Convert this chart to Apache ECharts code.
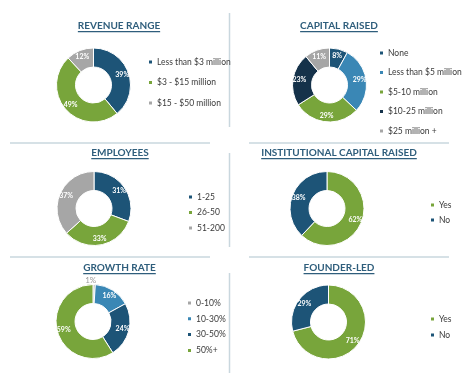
<!DOCTYPE html>
<html><head><meta charset="utf-8">
<script src="https://cdn.jsdelivr.net/npm/echarts@6/dist/echarts.min.js"></script>
<style>html,body{margin:0;padding:0;background:#fff}#c{width:474px;height:386px}</style>
</head><body><div id="c"></div><script>
const titles = ['REVENUE RANGE','CAPITAL RAISED','EMPLOYEES','INSTITUTIONAL CAPITAL RAISED','GROWTH RATE','FOUNDER-LED'];
const revenueCats = ['Less than $3 million','$3 - $15 million','$15 - $50 million'];
const revenueVals = [39,49,12];
const capitalCats = ['None','Less than $5 million','$5-10 million','$10-25 million','$25 million +'];
const capitalVals = [8,29,29,23,11];
const employeeCats = ['1-25','26-50','51-200'];
const employeeVals = [31,33,37];
const instCats = ['Yes','No'];
const instVals = [62,38];
const growthCats = ['0-10%','10-30%','30-50%','50%+'];
const growthVals = [1,16,24,59];
const founderCats = ['Yes','No'];
const founderVals = [71,29];

const NAVY='#1d5477', LBLUE='#3a87b5', GREEN='#78a53b', DNAVY='#15324a', GRAY='#a6a6a6';
const TCOL='#2f5e7c', LINE='#c9d7de';
const FONT='Lato';

const panels = [
  {cats:revenueCats, vals:revenueVals, colors:[NAVY,GREEN,GRAY], center:[93.5,85], title:[119,26], legend:[142,52], gap:10.5},
  {cats:capitalCats, vals:capitalVals, colors:[NAVY,LBLUE,GREEN,DNAVY,GRAY], center:[329.5,85], title:[339,26], legend:[373,43], gap:9.5},
  {cats:employeeCats, vals:employeeVals, colors:[NAVY,GREEN,GRAY], center:[94,208.5], title:[120,153], legend:[182,187], gap:5.5},
  {cats:instCats, vals:instVals, colors:[GREEN,NAVY], center:[327,208.5], title:[339,153], legend:[424,195], gap:5},
  {cats:growthCats, vals:growthVals, colors:[GRAY,LBLUE,NAVY,GREEN], center:[93,321.5], title:[119.5,268], legend:[181,293], gap:5.8},
  {cats:founderCats, vals:founderVals, colors:[GREEN,NAVY], center:[328.5,322], title:[339,268], legend:[424,309], gap:6}
];

const ctx = document.createElement('canvas').getContext('2d');
const titleFont = 'bold 10px ' + FONT;
ctx.font = titleFont;

const graphics = [];
const seg = (x1,y1,x2,y2)=>graphics.push({type:'line',shape:{x1,y1,x2,y2},style:{stroke:LINE,lineWidth:1.5},silent:true});
seg(229.5,13,229.5,127); seg(229.5,153,229.5,247); seg(229.5,273,229.5,373);
seg(10,143,210,143); seg(249,143,449,143);
seg(10,257,210,257); seg(249,257,449,257);

const series=[], legends=[];
panels.forEach((p,i)=>{
  const t = titles[i];
  const w = ctx.measureText(t).width;
  graphics.push({type:'text',style:{text:t,x:p.title[0],y:p.title[1],align:'center',verticalAlign:'middle',fill:TCOL,font:titleFont},silent:true});
  graphics.push({type:'rect',shape:{x:p.title[0]-w/2,y:p.title[1]+5,width:w,height:1.2},style:{fill:TCOL},silent:true});
  const small = [];
  const data = p.cats.map((c,k)=>{
    const d = {name:c, value:p.vals[k], itemStyle:{color:p.colors[k]}};
    if (p.vals[k] < 3) {
      small.push(k);
      d.label = {position:'outside', color:'#999', fontWeight:'normal', fontSize:8};
      d.labelLine = {show:false, length:1, length2:0};
    }
    return d;
  });
  series.push({
    type:'pie', radius:[18,37], center:p.center, startAngle:90, clockwise:true,
    avoidLabelOverlap:false, silent:true,
    itemStyle:{borderColor:'#fff', borderWidth:1},
    label:{show:true, position:'inside', formatter:'{c}%', color:'#fff', fontSize:7, fontWeight:'bold', fontFamily:FONT},
    labelLine:{show:false},
    labelLayout: small.length ? (prm => small.indexOf(prm.dataIndex) >= 0 ? {dx:-14, dy:-3} : {}) : undefined,
    data
  });
  legends.push({
    orient:'vertical', left:p.legend[0], top:p.legend[1], itemWidth:5, itemHeight:5, icon:'rect',
    itemGap:p.gap, selectedMode:false, data:p.cats,
    textStyle:{fontSize:8.5, color:'#3a3a3a', fontFamily:FONT, lineHeight:10, padding:[0,0,0,-1]}
  });
});

const chart = echarts.init(document.getElementById('c'), null, {renderer:'canvas'});
chart.setOption({animation:false, backgroundColor:'#fff', legend:legends, series, graphic:graphics});
</script></body></html>
